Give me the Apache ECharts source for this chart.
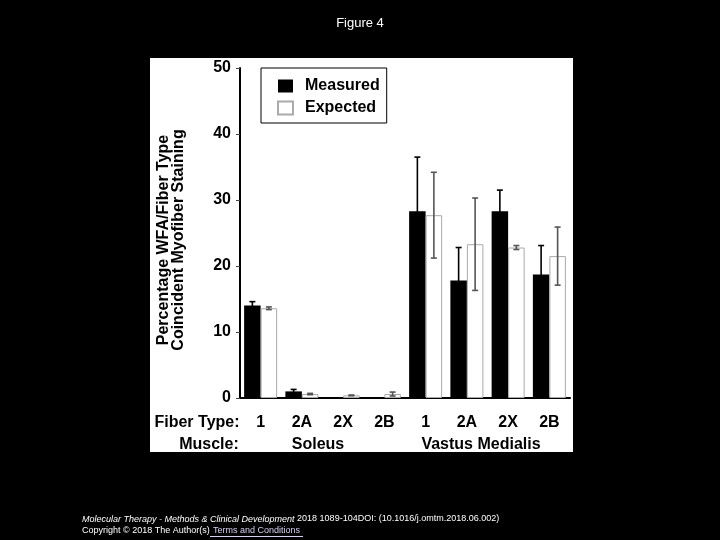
<!DOCTYPE html>
<html>
<head>
<meta charset="utf-8">
<script src="https://cdn.jsdelivr.net/npm/echarts@6/dist/echarts.min.js"></script>
<style>
  html, body { margin: 0; padding: 0; background: #000; }
  #main { width: 720px; height: 540px; }
</style>
</head>
<body>
<div id="main"></div>
<script>
// fiber types, soleus then vastus medialis
var categories = ['1', '2A', '2X', '2B', '1', '2A', '2X', '2B'];
var measured = [14.0, 1.0, 0, 0, 28.3, 17.8, 28.3, 18.7];
var measuredErr = [0.6, 0.3, 0, 0, 8.2, 5.0, 3.2, 4.4];
var expected = [13.6, 0.6, 0.4, 0.6, 27.7, 23.3, 22.8, 21.5];
var expectedErr = [0.2, 0.1, 0.05, 0.3, 6.5, 7.0, 0.3, 4.4];
var yTicks = [0, 10, 20, 30, 40, 50];

var font = '"Liberation Sans", Arial, sans-serif';
var chart = echarts.init(document.getElementById('main'));

function errData(vals, errs) {
  var out = [];
  for (var i = 0; i < vals.length; i++) {
    if (errs[i] > 0) out.push([i, vals[i] - errs[i], vals[i] + errs[i]]);
  }
  return out;
}

// draws whisker + caps, shifted to the bar's side of the category
function errRender(shift, color) {
  return function (params, api) {
    var idx = api.value(0);
    var lo = api.coord([idx, api.value(1)]);
    var hi = api.coord([idx, api.value(2)]);
    var band = api.size([1, 0])[0];
    var x = lo[0] + shift * band;
    var cap = 3;
    var st = { stroke: color, lineWidth: 1.6 };
    return {
      type: 'group',
      children: [
        { type: 'line', shape: { x1: x, y1: hi[1], x2: x, y2: lo[1] }, style: st },
        { type: 'line', shape: { x1: x - cap, y1: hi[1], x2: x + cap, y2: hi[1] }, style: st },
        { type: 'line', shape: { x1: x - cap, y1: lo[1], x2: x + cap, y2: lo[1] }, style: st }
      ]
    };
  };
}

var option = {
  backgroundColor: '#000',
  animation: false,
  title: {
    text: 'Figure 4',
    left: 'center',
    top: 12,
    textStyle: { color: '#fff', fontSize: 13, fontWeight: 'normal', fontFamily: font }
  },
  grid: { left: 240, right: 150, top: 68, bottom: 142 },
  legend: {
    data: ['Measured', 'Expected'],
    orient: 'vertical',
    left: 261,
    top: 68,
    padding: [10, 7, 7, 16],
    itemGap: 6,
    itemWidth: 15,
    itemHeight: 13,
    icon: 'rect',
    borderColor: '#000',
    borderWidth: 1,
    backgroundColor: '#fff',
    textStyle: { color: '#000', fontSize: 16, fontWeight: 'bold', fontFamily: font, padding: [0, 0, 0, 7] }
  },
  xAxis: {
    type: 'category',
    data: categories,
    axisLine: { lineStyle: { color: '#000', width: 2 } },
    axisTick: { length: 6, lineStyle: { color: '#999' } },
    axisLabel: { color: '#000', fontSize: 16, fontWeight: 'bold', fontFamily: font, margin: 17 }
  },
  yAxis: {
    type: 'value',
    min: 0,
    max: 50,
    interval: 10,
    splitLine: { show: false },
    axisLine: { show: true, lineStyle: { color: '#000', width: 2 } },
    axisTick: { show: true, length: 4, lineStyle: { color: '#444' } },
    axisLabel: {
      color: '#000', fontSize: 16, fontWeight: 'bold', fontFamily: font, margin: 9,
      formatter: function (v) { return yTicks.indexOf(v) >= 0 ? String(v) : ''; }
    }
  },
  graphic: [
    { type: 'rect', z: -10, shape: { x: 150, y: 58, width: 423, height: 394 }, style: { fill: '#fff' } },
    {
      type: 'text', x: 171, y: 240, rotation: Math.PI / 2,
      style: {
        text: 'Percentage WFA/Fiber Type\nCoincident Myofiber Staining',
        fill: '#000', font: 'bold 16px ' + font, align: 'center', verticalAlign: 'middle', lineHeight: 15
      }
    },
    { type: 'text', x: 197, y: 423, style: { text: 'Fiber Type:', fill: '#000', font: 'bold 16px ' + font, align: 'center', verticalAlign: 'middle' } },
    { type: 'text', x: 209, y: 445, style: { text: 'Muscle:', fill: '#000', font: 'bold 16px ' + font, align: 'center', verticalAlign: 'middle' } },
    { type: 'text', x: 318, y: 445, style: { text: 'Soleus', fill: '#000', font: 'bold 16px ' + font, align: 'center', verticalAlign: 'middle' } },
    { type: 'text', x: 481, y: 445, style: { text: 'Vastus Medialis', fill: '#000', font: 'bold 16px ' + font, align: 'center', verticalAlign: 'middle' } },
    {
      type: 'text', x: 82, y: 519,
      style: {
        text: '{i|Molecular Therapy - Methods & Clinical Development} 2018 1089-104DOI: (10.1016/j.omtm.2018.06.002)',
        fill: '#fff', font: '9px ' + font, verticalAlign: 'middle',
        rich: { i: { fill: '#fff', fontStyle: 'italic', fontSize: 9, fontFamily: font } }
      }
    },
    {
      type: 'text', x: 82, y: 531,
      style: { text: 'Copyright © 2018 The Author(s)', fill: '#fff', font: '9px ' + font, verticalAlign: 'middle' }
    },
    {
      type: 'text', x: 213, y: 531,
      style: { text: 'Terms and Conditions', fill: '#d8d0f0', font: '9px ' + font, verticalAlign: 'middle' }
    },
    { type: 'line', shape: { x1: 210, y1: 536.5, x2: 303, y2: 536.5 }, style: { stroke: '#d8d0f0', lineWidth: 1 } }
  ],
  series: [
    {
      name: 'Measured',
      type: 'bar',
      data: measured,
      barWidth: '40%',
      barGap: '0%',
      itemStyle: { color: '#000' }
    },
    {
      name: 'Expected',
      type: 'bar',
      data: expected,
      barWidth: '40%',
      barGap: '0%',
      itemStyle: { color: '#fff', borderColor: '#aaa', borderWidth: 1 }
    },
    {
      name: 'measuredErr',
      type: 'custom',
      z: 5,
      renderItem: errRender(-0.2, '#000'),
      encode: { x: 0, y: [1, 2] },
      data: errData(measured, measuredErr)
    },
    {
      name: 'expectedErr',
      type: 'custom',
      z: 5,
      renderItem: errRender(0.2, '#555'),
      encode: { x: 0, y: [1, 2] },
      data: errData(expected, expectedErr)
    }
  ]
};

chart.setOption(option);
</script>
</body>
</html>
